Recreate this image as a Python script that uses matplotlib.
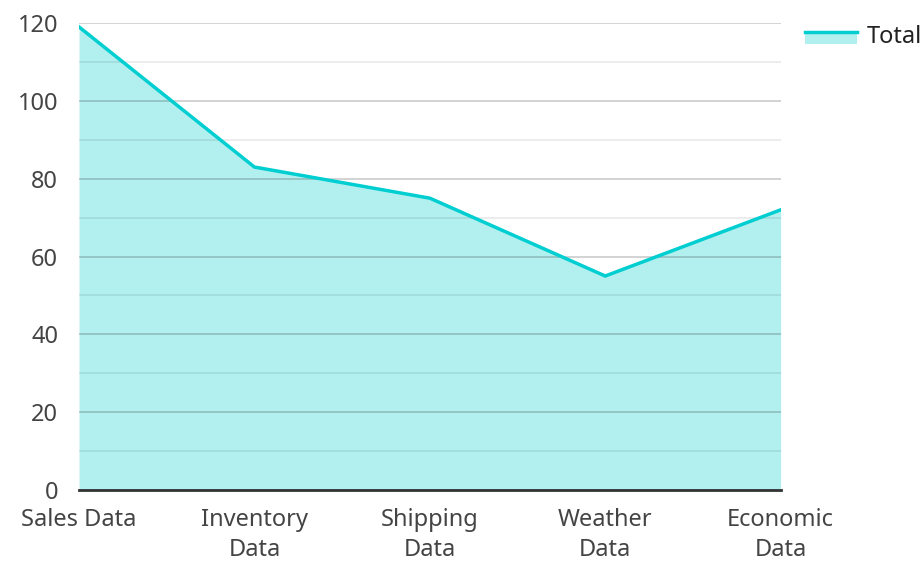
import matplotlib
matplotlib.use("Agg")
import matplotlib.pyplot as plt
from matplotlib.patches import Rectangle
from matplotlib.lines import Line2D

categories = ["Sales Data", "Inventory\nData", "Shipping\nData", "Weather\nData", "Economic\nData"]
totals = [119, 83, 75, 55, 72]

line_c = "#00CED1"
fill_c = "#B2EFEF"

plt.rcParams['font.family'] = ['Noto Sans', 'DejaVu Sans']


class AreaHandler:
    def legend_artist(self, legend, orig, fontsize, handlebox):
        x0, y0 = handlebox.xdescent, handlebox.ydescent
        w, h = handlebox.width, handlebox.height
        top = y0 + h * 0.7
        r = Rectangle((x0, y0 - h * 0.05), w, top - y0 + h * 0.05, facecolor=fill_c,
                      edgecolor="none", transform=handlebox.get_transform())
        ln = Line2D([x0, x0 + w], [top, top], color=line_c, lw=2.5,
                    transform=handlebox.get_transform())
        handlebox.add_artist(r)
        handlebox.add_artist(ln)
        return r


fig = plt.figure(figsize=(9.22, 5.62), dpi=100)
ax = fig.add_axes([0.0857, 0.128, 0.761, 0.831])

x = list(range(len(categories)))
ax.fill_between(x, 0, totals, color=fill_c, zorder=1, lw=0)
ax.plot(x, totals, color=line_c, lw=2.5, zorder=3, solid_joinstyle="miter")

ax.set_xlim(0, len(categories) - 1)
ax.set_ylim(0, 120)
ax.set_yticks(range(0, 121, 20))
ax.set_yticks(range(10, 120, 20), minor=True)
ax.set_xticks(x)
ax.set_xticklabels(categories, linespacing=1.35)

ax.grid(axis="y", which="major", color="black", alpha=0.2, lw=1.2, zorder=2)
ax.grid(axis="y", which="minor", color="black", alpha=0.09, lw=1.2, zorder=2)
ax.set_axisbelow(False)

for s in ["left", "right", "top"]:
    ax.spines[s].set_visible(False)
ax.spines["bottom"].set_color("#333333")
ax.spines["bottom"].set_linewidth(2)
ax.spines["bottom"].set_zorder(4)

ax.tick_params(axis="both", which="both", length=0, labelsize=17, labelcolor="#444444")
ax.tick_params(axis="y", pad=15)
ax.tick_params(axis="x", pad=13)

leg = fig.legend([object()], ["Total"], handler_map={object: AreaHandler()},
                 loc="upper right", bbox_to_anchor=(1.023, 0.993), frameon=False,
                 fontsize=17, handlelength=2.2, handletextpad=0.4, labelcolor="#222222")

fig.savefig("out.png", dpi=100)
